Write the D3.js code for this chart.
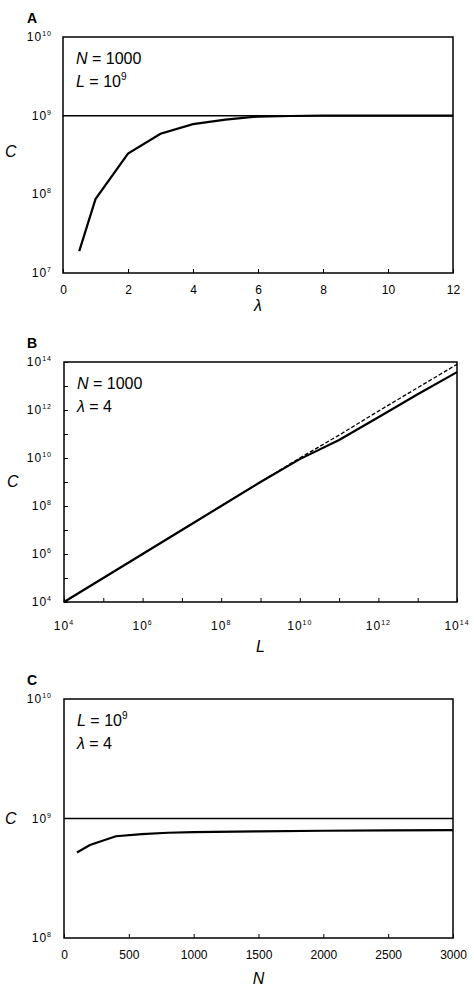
<!DOCTYPE html>
<html><head><meta charset="utf-8">
<script src="https://cdn.jsdelivr.net/npm/d3@7"></script>
<style>body{margin:0;background:#fff}text{font-family:"Liberation Sans",Arial,sans-serif}</style>
</head><body><svg id="c" width="474" height="991"></svg>
<script>
// Panel A: C vs lambda (N=1000, L=1e9)
const lambdaA = [0.5, 1, 2, 3, 4, 5, 6, 7, 8, 9, 10, 11, 12];
const cA = [1.9e7, 8.7e7, 3.3e8, 5.9e8, 7.8e8, 8.9e8, 9.75e8, 9.9e8, 1e9, 1e9, 1e9, 1e9, 1e9];
const lambdaTicks = [0, 2, 4, 6, 8, 10, 12];
const expA = [7, 8, 9, 10];

// Panel B: C vs L (N=1000, lambda=4)
const lB = [1e4, 1e5, 1e6, 1e7, 1e8, 1e9, 1e10, 1e11, 1e12, 1e13, 1e14];
const cBsolid = [1e4, 1e5, 1e6, 1e7, 1e8, 1e9, 9e9, 5.6e10, 5e11, 4.5e12, 3.8e13];
const cBdash = [1e4, 1e5, 1e6, 1e7, 1e8, 1e9, 1e10, 9e10, 9e11, 8.5e12, 8e13];
const expB = [4, 6, 8, 10, 12, 14];

// Panel C: C vs N (L=1e9, lambda=4)
const nC = [100, 200, 400, 600, 800, 1000, 1500, 2000, 2500, 3000];
const cC = [5.2e8, 6.0e8, 7.1e8, 7.4e8, 7.6e8, 7.7e8, 7.8e8, 7.9e8, 7.95e8, 8.0e8];
const nTicks = [0, 500, 1000, 1500, 2000, 2500, 3000];
const expC = [8, 9, 10];

const svg = d3.select("#c");

function powLabel(g, x, y, e, anchor) {
  const t = g.append("text").attr("x", x).attr("y", y).attr("font-size", 12)
    .attr("text-anchor", anchor).attr("letter-spacing", 1);
  t.append("tspan").text("10");
  t.append("tspan").attr("dy", -5).attr("font-size", 7).text(e);
}

function frame(x0, x1, y0, y1, letter, xlab, xlabOff, info) {
  const g = svg.append("g");
  g.append("text").attr("x", 27).attr("y", y0 - 14).attr("font-size", 14)
    .attr("font-weight", "bold").text(letter);
  g.append("rect").attr("x", x0).attr("y", y0).attr("width", x1 - x0).attr("height", y1 - y0)
    .attr("fill", "none").attr("stroke", "#000").attr("stroke-width", 1.5);
  g.append("text").attr("x", (x0 + x1) / 2).attr("y", y1 + xlabOff).attr("text-anchor", "middle")
    .attr("font-size", 16).attr("font-style", "italic").text(xlab);
  info.forEach((s, i) => {
    const t = g.append("text").attr("x", x0 + 13).attr("y", y0 + 27 + i * 23).attr("font-size", 16);
    t.append("tspan").attr("font-style", "italic").text(s[0]);
    t.append("tspan").text(s[1]);
    if (s[2]) t.append("tspan").attr("dy", -7).attr("font-size", 10).text(s[2]);
  });
  return g;
}

// ===== A =====
{
  const x = d3.scaleLinear().domain([0, 12]).range([63, 453]);
  const y = d3.scaleLog().domain([1e7, 1e10]).range([273, 37]);
  const g = frame(63, 453, 37, 273, "A", "λ", 38, [["N", " = 1000"], ["L", " = 10", "9"]]);
  g.append("g").attr("transform", "translate(0,273)")
    .call(d3.axisBottom(x).tickValues(lambdaTicks).tickSize(-4).tickPadding(12))
    .call(a => { a.select(".domain").remove(); a.selectAll("text").attr("font-size", 12).attr("font-family", "Liberation Sans"); });
  expA.forEach(e => powLabel(g, 52, y(Math.pow(10, e)) + 4, e, "end"));
  g.append("text").attr("x", 5).attr("y", 157).attr("font-size", 16).attr("font-style", "italic").text("C");
  g.append("line").attr("x1", 63).attr("x2", 453).attr("y1", y(1e9)).attr("y2", y(1e9))
    .attr("stroke", "#000").attr("stroke-width", 1.5);
  g.append("path").datum(lambdaA.map((d, i) => [d, cA[i]]))
    .attr("d", d3.line().x(d => x(d[0])).y(d => y(d[1])))
    .attr("fill", "none").attr("stroke", "#000").attr("stroke-width", 2.2);
}

// ===== B =====
{
  const x = d3.scaleLog().domain([1e4, 1e14]).range([64, 457]);
  const y = d3.scaleLog().domain([1e4, 1e14]).range([602, 362]);
  const g = frame(64, 457, 362, 602, "B", "L", 50, [["N", " = 1000"], ["λ", " = 4"]]);
  const dec = d3.range(4, 15).map(e => Math.pow(10, e));
  g.append("g").attr("transform", "translate(0,602)")
    .call(d3.axisBottom(x).tickValues(dec).tickSize(-4).tickFormat(""))
    .call(a => a.select(".domain").remove());
  g.append("g").attr("transform", "translate(64,0)")
    .call(d3.axisLeft(y).tickValues(dec).tickSize(-4).tickFormat(""))
    .call(a => a.select(".domain").remove());
  expB.forEach(e => {
    powLabel(g, 52, y(Math.pow(10, e)) + 4, e, "end");
    powLabel(g, x(Math.pow(10, e)), 630, e, "middle");
  });
  g.append("text").attr("x", 7).attr("y", 487).attr("font-size", 16).attr("font-style", "italic").text("C");
  const line = d3.line().x(d => x(d[0])).y(d => y(d[1]));
  g.append("path").datum(lB.map((d, i) => [d, cBdash[i]])).attr("d", line)
    .attr("fill", "none").attr("stroke", "#000").attr("stroke-width", 1.3).attr("stroke-dasharray", "4,2");
  g.append("path").datum(lB.map((d, i) => [d, cBsolid[i]])).attr("d", line)
    .attr("fill", "none").attr("stroke", "#000").attr("stroke-width", 2.2);
}

// ===== C =====
{
  const x = d3.scaleLinear().domain([0, 3000]).range([64, 453]);
  const y = d3.scaleLog().domain([1e8, 1e10]).range([938, 699]);
  const g = frame(64, 453, 699, 938, "C", "N", 46, [["L", " = 10", "9"], ["λ", " = 4"]]);
  g.append("g").attr("transform", "translate(0,938)")
    .call(d3.axisBottom(x).tickValues(nTicks).tickSize(-4).tickPadding(12).tickFormat(d3.format("d")))
    .call(a => { a.select(".domain").remove(); a.selectAll("text").attr("font-size", 12).attr("font-family", "Liberation Sans"); });
  expC.forEach(e => powLabel(g, 52, y(Math.pow(10, e)) + 4, e, "end"));
  g.append("text").attr("x", 5).attr("y", 824).attr("font-size", 16).attr("font-style", "italic").text("C");
  g.append("line").attr("x1", 64).attr("x2", 453).attr("y1", y(1e9)).attr("y2", y(1e9))
    .attr("stroke", "#000").attr("stroke-width", 1.5);
  g.append("path").datum(nC.map((d, i) => [d, cC[i]]))
    .attr("d", d3.line().x(d => x(d[0])).y(d => y(d[1])))
    .attr("fill", "none").attr("stroke", "#000").attr("stroke-width", 2.2);
}
</script></body></html>
